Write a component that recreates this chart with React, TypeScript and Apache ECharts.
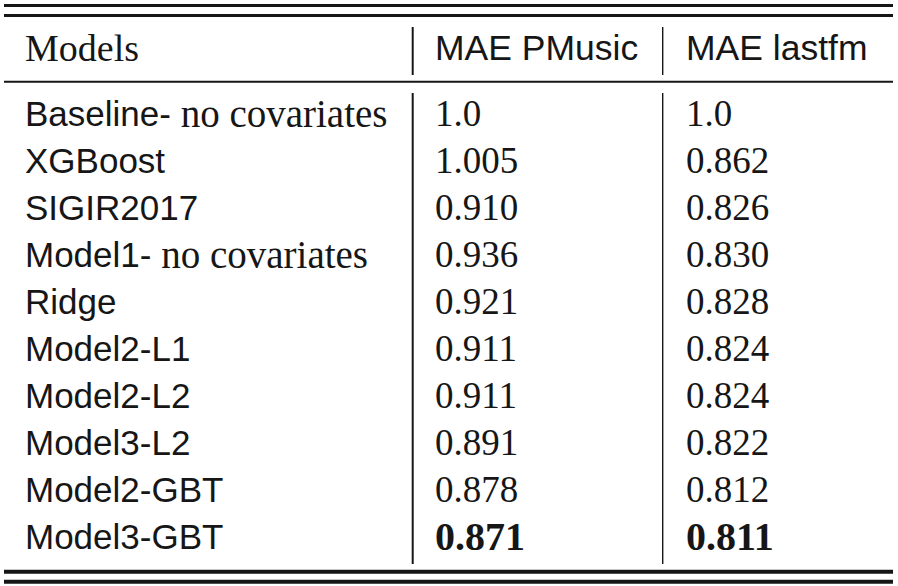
import React, { useEffect, useRef } from "react";
import * as echarts from "echarts";

// table content
const headers = ["Models", "MAE PMusic", "MAE lastfm"];
const models = [
	"Baseline- no covariates",
	"XGBoost",
	"SIGIR2017",
	"Model1- no covariates",
	"Ridge",
	"Model2-L1",
	"Model2-L2",
	"Model3-L2",
	"Model2-GBT",
	"Model3-GBT",
];
const maePMusic = ["1.0", "1.005", "0.910", "0.936", "0.921", "0.911", "0.911", "0.891", "0.878", "0.871"];
const maeLastfm = ["1.0", "0.862", "0.826", "0.830", "0.828", "0.824", "0.824", "0.822", "0.812", "0.811"];

const W = 898;
const H = 586;
const SANS = "'Liberation Sans', Arial, sans-serif";
const SERIF = "'Liberation Serif', 'Times New Roman', serif";
const INK = "#161616";
const colX = [25, 435, 686];
const sep1 = 412.7;
const sep2 = 662.7;

const bestIndex = (vals) => {
	let best = 0;
	vals.forEach((v, i) => {
		if (parseFloat(v) < parseFloat(vals[best])) best = i;
	});
	return best;
};

const hline = (y, w) => ({
	type: "line",
	shape: { x1: 4, y1: y, x2: 893, y2: y },
	style: { stroke: INK, lineWidth: w },
});

const vline = (x, y1, y2, w) => ({
	type: "line",
	shape: { x1: x, y1, x2: x, y2 },
	style: { stroke: INK, lineWidth: w },
});

const App = () => {
	const chartRef = useRef(null);

	useEffect(() => {
		if (!chartRef.current) return;
		const chart = echarts.init(chartRef.current, null, { renderer: "svg" });

		const bestP = bestIndex(maePMusic);
		const bestL = bestIndex(maeLastfm);

		const numText = (x, y, text, bold) => ({
			type: "text",
			style: {
				x,
				y,
				text,
				fill: INK,
				fontFamily: SERIF,
				fontSize: bold ? 40 : 37,
				fontWeight: bold ? "bold" : "normal",
				verticalAlign: "middle",
				align: "left",
			},
		});

		const option = {
			animation: false,
			backgroundColor: "#ffffff",
			grid: { left: 0, right: 0, top: 89.45, bottom: 25.45 },
			xAxis: { type: "value", min: 0, max: W, show: false },
			yAxis: { type: "category", data: models, inverse: true, show: false },
			series: [
				{
					type: "custom",
					data: models.map((_, i) => [0, i]),
					renderItem: (params, api) => {
						const i = params.dataIndex;
						const y = api.coord([0, i])[1];
						const name = models[i];
						const m = name.match(/^(.*?-)( .+)$/);
						const label = m ? `{s|${m[1]}}{r|${m[2]}}` : `{s|${name}}`;
						return {
							type: "group",
							children: [
								{
									type: "text",
									style: {
										x: colX[0],
										y,
										text: label,
										fill: INK,
										verticalAlign: "middle",
										align: "left",
										rich: {
											s: { fontFamily: SANS, fontSize: 35, fill: INK },
											r: { fontFamily: SERIF, fontSize: 39, fill: INK },
										},
									},
								},
								numText(colX[1], y, maePMusic[i], i === bestP),
								numText(colX[2], y, maeLastfm[i], i === bestL),
							],
						};
					},
				},
			],
			graphic: [
				hline(5.4, 3),
				hline(15.4, 3),
				hline(81.7, 2),
				hline(571.7, 4),
				hline(581.7, 4),
				vline(sep1, 27, 75, 2),
				vline(sep2, 27, 75, 1.4),
				vline(sep1, 93, 564, 2),
				vline(sep2, 93, 564, 1.4),
				{
					type: "text",
					style: {
						x: colX[0],
						y: 47.5,
						text: headers[0],
						fill: INK,
						fontFamily: SERIF,
						fontSize: 38,
						verticalAlign: "middle",
					},
				},
				...headers.slice(1).map((h, k) => ({
					type: "text",
					style: {
						x: colX[k + 1],
						y: 47.5,
						text: h,
						fill: INK,
						fontFamily: SANS,
						fontSize: 35.5,
						verticalAlign: "middle",
					},
				})),
			],
		};

		chart.setOption(option);

		return () => {
			chart.dispose();
		};
	}, []);

	return (
		<div
			ref={chartRef}
			style={{
				position: "absolute",
				left: 0,
				top: 0,
				width: `${W}px`,
				height: `${H}px`,
				background: "#fff",
			}}
		/>
	);
};

export default App;
